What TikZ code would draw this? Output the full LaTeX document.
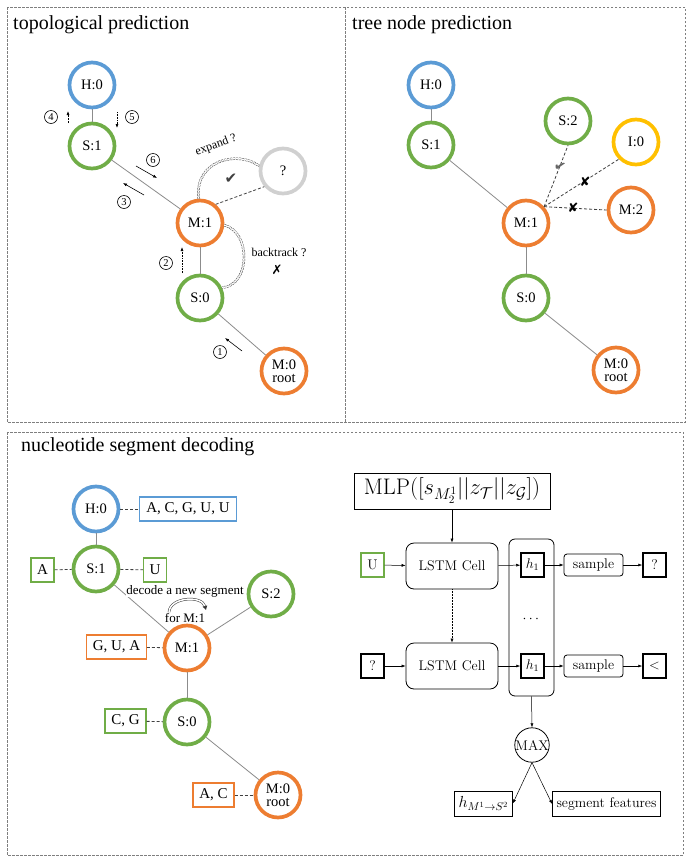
\RequirePackage{fix-cm}
\documentclass[tikz,border=0pt]{standalone}
\usepackage{fontspec}
\usepackage{amsmath}
\newfontfamily\tms{Liberation Serif}
\newfontfamily\djv{DejaVu Sans}
\usetikzlibrary{arrows.meta}
\definecolor{cblue}{HTML}{5B9BD5}
\definecolor{cgreen}{HTML}{70AD47}
\definecolor{corange}{HTML}{ED7D31}
\definecolor{cyellow}{HTML}{FFC000}
\definecolor{cgray}{HTML}{D0D0D0}
\definecolor{edgegray}{HTML}{8C8C8C}
\definecolor{panelgray}{HTML}{7F7F7F}
\tikzset{
  panel/.style={draw=panelgray, line width=0.8pt, dash pattern=on 2.5pt off 1.5pt},
  title/.style={anchor=west, inner sep=0pt, font=\tms\fontsize{20}{21}\selectfont},
  tn/.style={circle, draw, line width=3.7pt, minimum size=45pt, inner sep=0pt, fill=white, align=center, font=\tms\fontsize{14.5}{13}\selectfont},
  edge/.style={draw=edgegray, line width=0.8pt},
  dline/.style={draw=black!75, line width=0.8pt, dash pattern=on 3pt off 2pt},
  numc/.style={circle, draw, line width=0.6pt, inner sep=0pt, minimum size=13pt, font=\tms\fontsize{10.5}{10}\selectfont},
  smarrow/.style={line width=0.6pt, -{Latex[length=4pt,width=3pt]}},
  lbl/.style={inner sep=0pt, font=\tms\fontsize{13}{14}\selectfont},
  sq/.style={draw, line width=1.2pt, minimum height=24pt, inner xsep=6pt, inner ysep=0pt, fill=white, font=\tms\fontsize{15}{16}\selectfont},
  rp/.style={font=\fontsize{14}{16}\selectfont},
  cell/.style={rp, draw, line width=0.8pt, rounded corners=8pt, minimum width=92pt, minimum height=46pt},
  kbox/.style={rp, draw, line width=1.5pt, minimum width=23pt, minimum height=24pt, inner sep=0pt},
  sbox/.style={rp, draw, line width=0.8pt, rounded corners=3pt, minimum width=59pt, minimum height=22pt, inner sep=0pt},
  rbox/.style={rp, draw, line width=0.8pt, minimum height=25pt, inner xsep=4pt, inner ysep=0pt},
  arr/.style={line width=0.5pt, -{Latex[length=4pt,width=3pt]}},
  dcurve/.style={black!70, line width=0.5pt, double=white, double distance=1.4pt, dash pattern=on 2pt off 1pt},
}
\begin{document}
\begin{tikzpicture}[x=1pt,y=-1pt]
\useasboundingbox (0,0) rectangle (689,860);
\fill[white] (0,0) rectangle (689,860);
% panels
\draw[panel] (7,7) rectangle (685,422);
\draw[panel] (345,7) -- (345,422);
\draw[panel] (7,432) rectangle (683,855);
\node[title] (t1) at (13,25) {topological prediction};
\node[title] (t2) at (352,25) {tree node prediction};
\node[title] (t3) at (21,447) {nucleotide segment decoding};

% ---------- topological prediction ----------
\node[tn, draw=cblue] (lh0) at (92,85) {H:0};
\node[tn, draw=cgreen] (ls1) at (92,146) {S:1};
\node[tn, draw=cgray] (lq) at (283,171) {?};
\node[tn, draw=corange] (lm1) at (200,223) {M:1};
\node[tn, draw=cgreen] (ls0) at (200,298) {S:0};
\node[tn, draw=corange] (lm0) at (284,371) {M:0\\root};
\draw[edge] (lh0) -- (ls1);
\draw[edge] (ls1) -- (lm1);
\draw[edge] (lm1) -- (ls0);
\draw[edge] (ls0) -- (lm0);
\draw[dline] (lm1.50) -- (lq.220);
% step numbers
\node[numc] (n4) at (51,117) {4};
\node[numc] (n5) at (132,117) {5};
\node[numc] (n6) at (153,160) {6};
\node[numc] (n3) at (124,202) {3};
\node[numc] (n2) at (166,263) {2};
\node[numc] (n1) at (220,352) {1};
\coordinate (a4s) at (68,123); \coordinate (a4e) at (68,111);
\coordinate (a5s) at (117,112); \coordinate (a5e) at (117,128);
\coordinate (a6s) at (136,166); \coordinate (a6e) at (157,178);
\coordinate (a3s) at (144,195); \coordinate (a3e) at (123,183);
\coordinate (a2s) at (182,273); \coordinate (a2e) at (182,247);
\coordinate (a1s) at (242,351); \coordinate (a1e) at (225,338);
\draw[smarrow, densely dotted] (a4s) -- (a4e);
\draw[smarrow, densely dotted] (a5s) -- (a5e);
\draw[smarrow] (a6s) -- (a6e);
\draw[smarrow] (a3s) -- (a3e);
\draw[smarrow, densely dotted] (a2s) -- (a2e);
\draw[smarrow] (a1s) -- (a1e);
% expand / backtrack
\draw[dcurve] (lm1.93) .. controls (194,160) and (238,150) .. (lq.168);
\node[lbl, rotate=20, font=\tms\fontsize{12}{13}\selectfont] (expl) at (216,145) {expand ?};
\node[inner sep=0pt, text=black!75, font=\djv\fontsize{15}{15}\selectfont] (chk1) at (231,179) {✔};
\draw[dcurve] (lm1.-5) .. controls (251,232) and (251,285) .. (ls0.25);
\node[lbl, font=\tms\fontsize{12}{13}\selectfont] (btl) at (279,252) {backtrack ?};
\node[inner sep=0pt, font=\djv\fontsize{13}{13}\selectfont] (x1) at (277,270) {✗};

% ---------- tree node prediction ----------
\node[tn, draw=cblue] (rh0) at (431,85) {H:0};
\node[tn, draw=cgreen] (rs1) at (431,145) {S:1};
\node[tn, draw=cgreen] (rs2) at (568,121) {S:2};
\node[tn, draw=cyellow] (ri0) at (636,142) {I:0};
\node[tn, draw=corange] (rm1) at (526,223) {M:1};
\node[tn, draw=corange] (rm2) at (631,210) {M:2};
\node[tn, draw=cgreen] (rs0) at (526,298) {S:0};
\node[tn, draw=corange] (rm0) at (616,370) {M:0\\root};
\draw[edge] (rh0) -- (rs1);
\draw[edge] (rs1) -- (rm1);
\draw[edge] (rm1) -- (rs0);
\draw[edge] (rs0) -- (rm0);
\coordinate (hub) at (rm1.42);
\draw[dline] (hub) -- (rs2.south);
\draw[dline] (hub) -- (ri0.225);
\draw[dline] (hub) -- (rm2.west);
\node[inner sep=0pt, text=black!60, rotate=-15, font=\djv\fontsize{14}{14}\selectfont] (chk2) at (560,167) {✔};
\node[inner sep=0pt, font=\djv\bfseries\fontsize{13}{13}\selectfont] (x2) at (585,182) {✘};
\node[inner sep=0pt, font=\djv\bfseries\fontsize{13}{13}\selectfont] (x3) at (573,208) {✘};

% ---------- nucleotide segment decoding (left) ----------
\node[tn, draw=cblue] (bh0) at (96,509) {H:0};
\node[tn, draw=cgreen] (bs1) at (96,569) {S:1};
\node[tn, draw=cgreen] (bs2) at (271,594) {S:2};
\node[tn, draw=corange] (bm1) at (187,648) {M:1};
\node[tn, draw=cgreen] (bs0) at (187,722) {S:0};
\node[tn, draw=corange] (bm0) at (278,795) {M:0\\root};
\draw[edge] (bh0) -- (bs1);
\draw[edge] (bs1) -- (bm1);
\draw[edge] (bm1) -- (bs2);
\draw[edge] (bm1) -- (bs0);
\draw[edge] (bs0) -- (bm0);
\node[sq, draw=cblue, minimum width=97pt] (sqh0) at (188,509) {A, C, G, U, U};
\node[sq, draw=cgreen, minimum width=23pt, inner xsep=0pt] (sqa) at (42.5,570) {A};
\node[sq, draw=cgreen, minimum width=23pt, inner xsep=0pt] (squ) at (155,570) {U};
\node[sq, draw=corange, minimum width=59pt] (sqm1) at (116.5,647) {G, U, A};
\node[sq, draw=cgreen, minimum width=41pt, inner xsep=3pt] (sqs0) at (125.5,721) {C, G};
\node[sq, draw=corange, minimum width=41pt, inner xsep=3pt] (sqm0) at (213.5,795) {A, C};
\draw[dline] (bh0) -- (sqh0);
\draw[dline] (sqa) -- (bs1);
\draw[dline] (bs1) -- (squ);
\draw[dline] (sqm1) -- (bm1);
\draw[dline] (sqs0) -- (bs0);
\draw[dline] (sqm0) -- (bm0);
\node[lbl, fill=white, inner sep=0.5pt] (dec) at (185,591) {decode a new segment};
\node[lbl, inner sep=0.5pt] (forl) at (185,618) {for M:1};
\coordinate (arcA) at (169,612);
\coordinate (arcB) at (206,610);
\draw[black!80, line width=0.5pt, double=white, double distance=1.5pt, -{Latex[length=4pt,width=5pt]}]
  (arcA) .. controls (170,597) and (202,595) .. (arcB);

% ---------- nucleotide segment decoding (right) ----------
\node[draw, line width=0.8pt, minimum width=196pt, minimum height=36pt, inner sep=0pt, font=\fontsize{22.5}{24}\selectfont] (mlp) at (452,491)
  {$\mathrm{MLP}([s_{M^1_2}||z_{\mathcal{T}}||z_{\mathcal{G}}])$};
\node[cell] (c1) at (452,566) {LSTM Cell};
\node[cell] (c2) at (452,666) {LSTM Cell};
\node[kbox, draw=cgreen, line width=1.2pt] (uin) at (372.5,565) {U};
\node[kbox] (qin) at (372.5,666) {?};
\node[draw, line width=0.8pt, rounded corners=6pt, minimum width=45pt, minimum height=157pt] (col) at (531.5,617.5) {};
\node[kbox, fill=white] (h1a) at (532.5,565) {$h_1$};
\node[kbox, fill=white] (h1b) at (532.5,666) {$h_1$};
\node[rp, inner sep=0pt] (dots) at (532,619) {$\cdots$};
\node[sbox] (sa) at (593.5,565) {sample};
\node[sbox] (sb) at (593.5,666) {sample};
\node[kbox] (oa) at (654.5,565) {?};
\node[kbox] (ob) at (654.5,666) {$<$};
\node[circle, draw, line width=0.8pt, minimum size=34pt, inner sep=0pt, font=\fontsize{14}{14}\selectfont] (mx) at (532,745) {MAX};
\node[rbox, font=\fontsize{16}{17}\selectfont] (hm) at (483.5,803.5) {$h_{M^1\to S^2}$};
\node[rbox] (sf) at (606.5,804) {segment features};
\draw[arr] (mlp.south) -- (c1.north);
\draw[arr, densely dotted] (c1.south) -- (c2.north);
\draw[arr] (uin) -- (c1);
\draw[arr] (qin) -- (c2);
\draw[arr] (c1) -- (h1a);
\draw[arr] (c2) -- (h1b);
\draw[arr] (h1a) -- (sa);
\draw[arr] (h1b) -- (sb);
\draw[arr] (sa) -- (oa);
\draw[arr] (sb) -- (ob);
\draw[arr] (col.south) -- (mx.north);
\draw[arr] (mx.south) -- (hm.east);
\draw[arr] (mx.south) -- (sf.west);
\end{tikzpicture}
\end{document}
